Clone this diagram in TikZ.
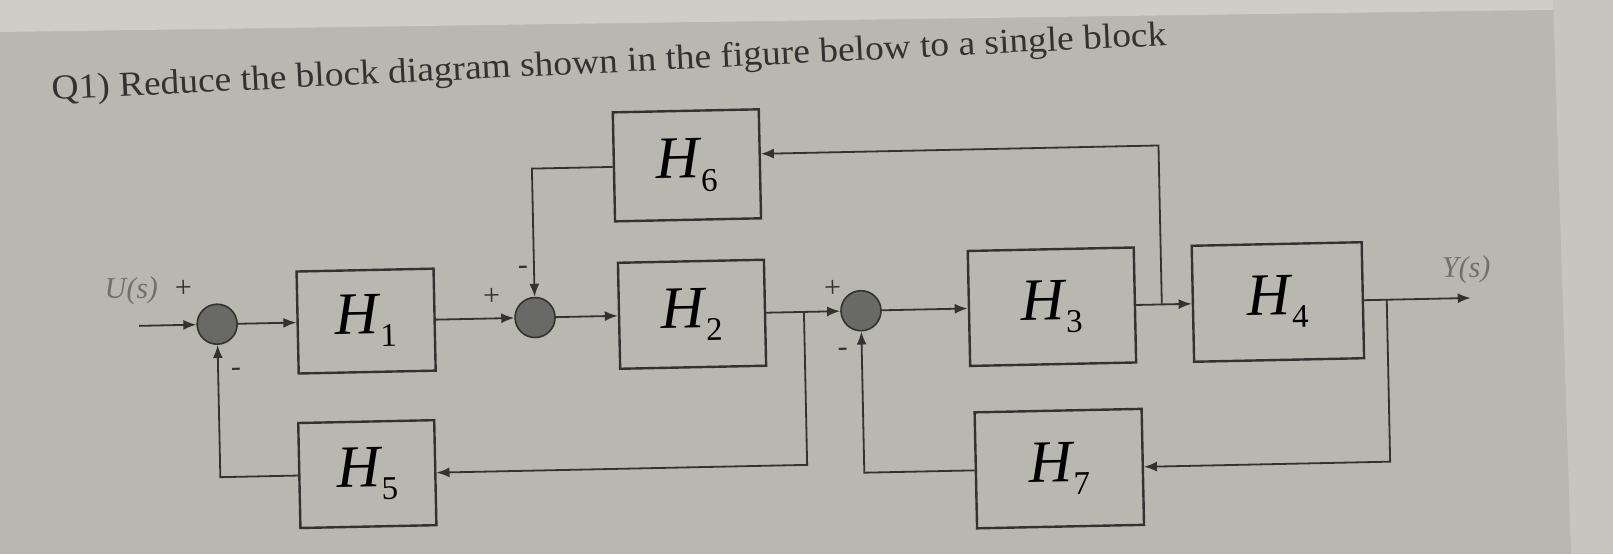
\documentclass[tikz,border=0pt]{standalone}
\usepackage{fontspec}
\setmainfont{Liberation Serif}
\usetikzlibrary{arrows.meta}
\definecolor{page}{RGB}{184,183,176}
\definecolor{lightpage}{RGB}{206,205,200}
\definecolor{sidepage}{RGB}{198,197,191}
\definecolor{ink}{RGB}{50,50,48}
\definecolor{sumfill}{RGB}{105,105,101}
\definecolor{faint}{RGB}{112,112,108}
\newcommand{\Hlab}[1]{{\fontsize{60}{62}\selectfont\itshape H}\kern1pt\raisebox{-13pt}{\fontsize{33}{35}\selectfont #1}}
\begin{document}
\begin{tikzpicture}[x=1pt,y=1pt,
  blk/.style={draw=ink, line width=2.4pt, inner sep=0pt, align=center},
  sumj/.style={circle, draw=ink, line width=1.6pt, fill=sumfill, minimum size=40pt, inner sep=0pt},
  sig/.style={draw=ink, line width=1.8pt, -{Latex[length=13pt,width=10pt]}},
  sgn/.style={text=ink, font=\fontsize{30}{32}\selectfont, inner sep=0pt},
  lbl/.style={text=faint, font=\fontsize{30}{32}\selectfont\itshape, inner sep=0pt}]
% background
\fill[page] (0,0) rectangle (1613,554);
\fill[lightpage] (0,554) -- (1613,554) -- (1613,545) -- (0,522) -- cycle;
\fill[sidepage] (1553,554) -- (1613,554) -- (1613,0) -- (1571,0) -- cycle;
\useasboundingbox (0,0) rectangle (1613,554);
% title
\node[rotate=2.8, text=ink, font=\fontsize{35}{37}\selectfont, inner sep=0pt] (title) at (609,490)
  {\scalebox{1.07}[1]{Q1) Reduce the block diagram shown in the figure below to a single block}};
\begin{scope}[rotate around={1.2:(800,242)}, transform shape]
  % junctions
  \node[sumj] (s1) at (217,242) {};
  \node[sumj] (s2) at (535,242) {};
  \node[sumj] (s3) at (861,242) {};
  % blocks
  \node[blk, minimum width=137pt, minimum height=102pt] (H1) at (366,242) {\Hlab{1}};
  \node[blk, minimum width=146pt, minimum height=106pt] (H2) at (692,242) {\Hlab{2}};
  \node[blk, minimum width=166pt, minimum height=115pt] (H3) at (1052,242) {\Hlab{3}};
  \node[blk, minimum width=170pt, minimum height=116pt] (H4) at (1278,242) {\Hlab{4}};
  \node[blk, minimum width=136pt, minimum height=105pt] (H5) at (364,89) {\Hlab{5}};
  \node[blk, minimum width=146pt, minimum height=109pt] (H6) at (690,391) {\Hlab{6}};
  \node[blk, minimum width=167pt, minimum height=116pt] (H7) at (1056,80) {\Hlab{7}};
  % free ends and branch points
  \coordinate (in) at (139,242);
  \coordinate (out) at (1471,242);
  \coordinate (b1) at (804,242);
  \coordinate (b2) at (1162,242);
  \coordinate (t2) at (1162,401);
  \coordinate (b3) at (1387,242);
  % forward path
  \draw[sig] (in) -- (s1.west);
  \draw[sig] (s1.east) -- (H1.west);
  \draw[sig] (H1.east) -- (s2.west);
  \draw[sig] (s2.east) -- (H2.west);
  \draw[sig] (H2.east) -- (s3.west);
  \draw[sig] (s3.east) -- (H3.west);
  \draw[sig] (H3.east) -- (H4.west);
  \draw[sig] (H4.east) -- (out);
  % feedback paths
  \draw[sig] (b1) |- (H5.east);
  \draw[sig] (H5.west) -| (s1.south);
  \draw[sig] (b2) -- (t2) -- (t2 -| H6.east);
  \draw[sig] (H6.west) -| (s2.north);
  \draw[sig] (b3) |- (H7.east);
  \draw[sig] (H7.west) -| (s3.south);
  % labels and signs
  \node[lbl] (U) at (132,277) {U(s)};
  \node[sgn] (p1) at (184,278) {+};
  \node[sgn] (m1) at (235,194) {-};
  \node[sgn] (p2) at (492,264) {+};
  \node[sgn] (m2) at (524,289) {-};
  \node[sgn] (p3) at (833,264) {+};
  \node[sgn] (m3) at (842,201) {-};
  \node[lbl] (Y) at (1467,270) {Y(s)};
\end{scope}
\end{tikzpicture}
\end{document}
